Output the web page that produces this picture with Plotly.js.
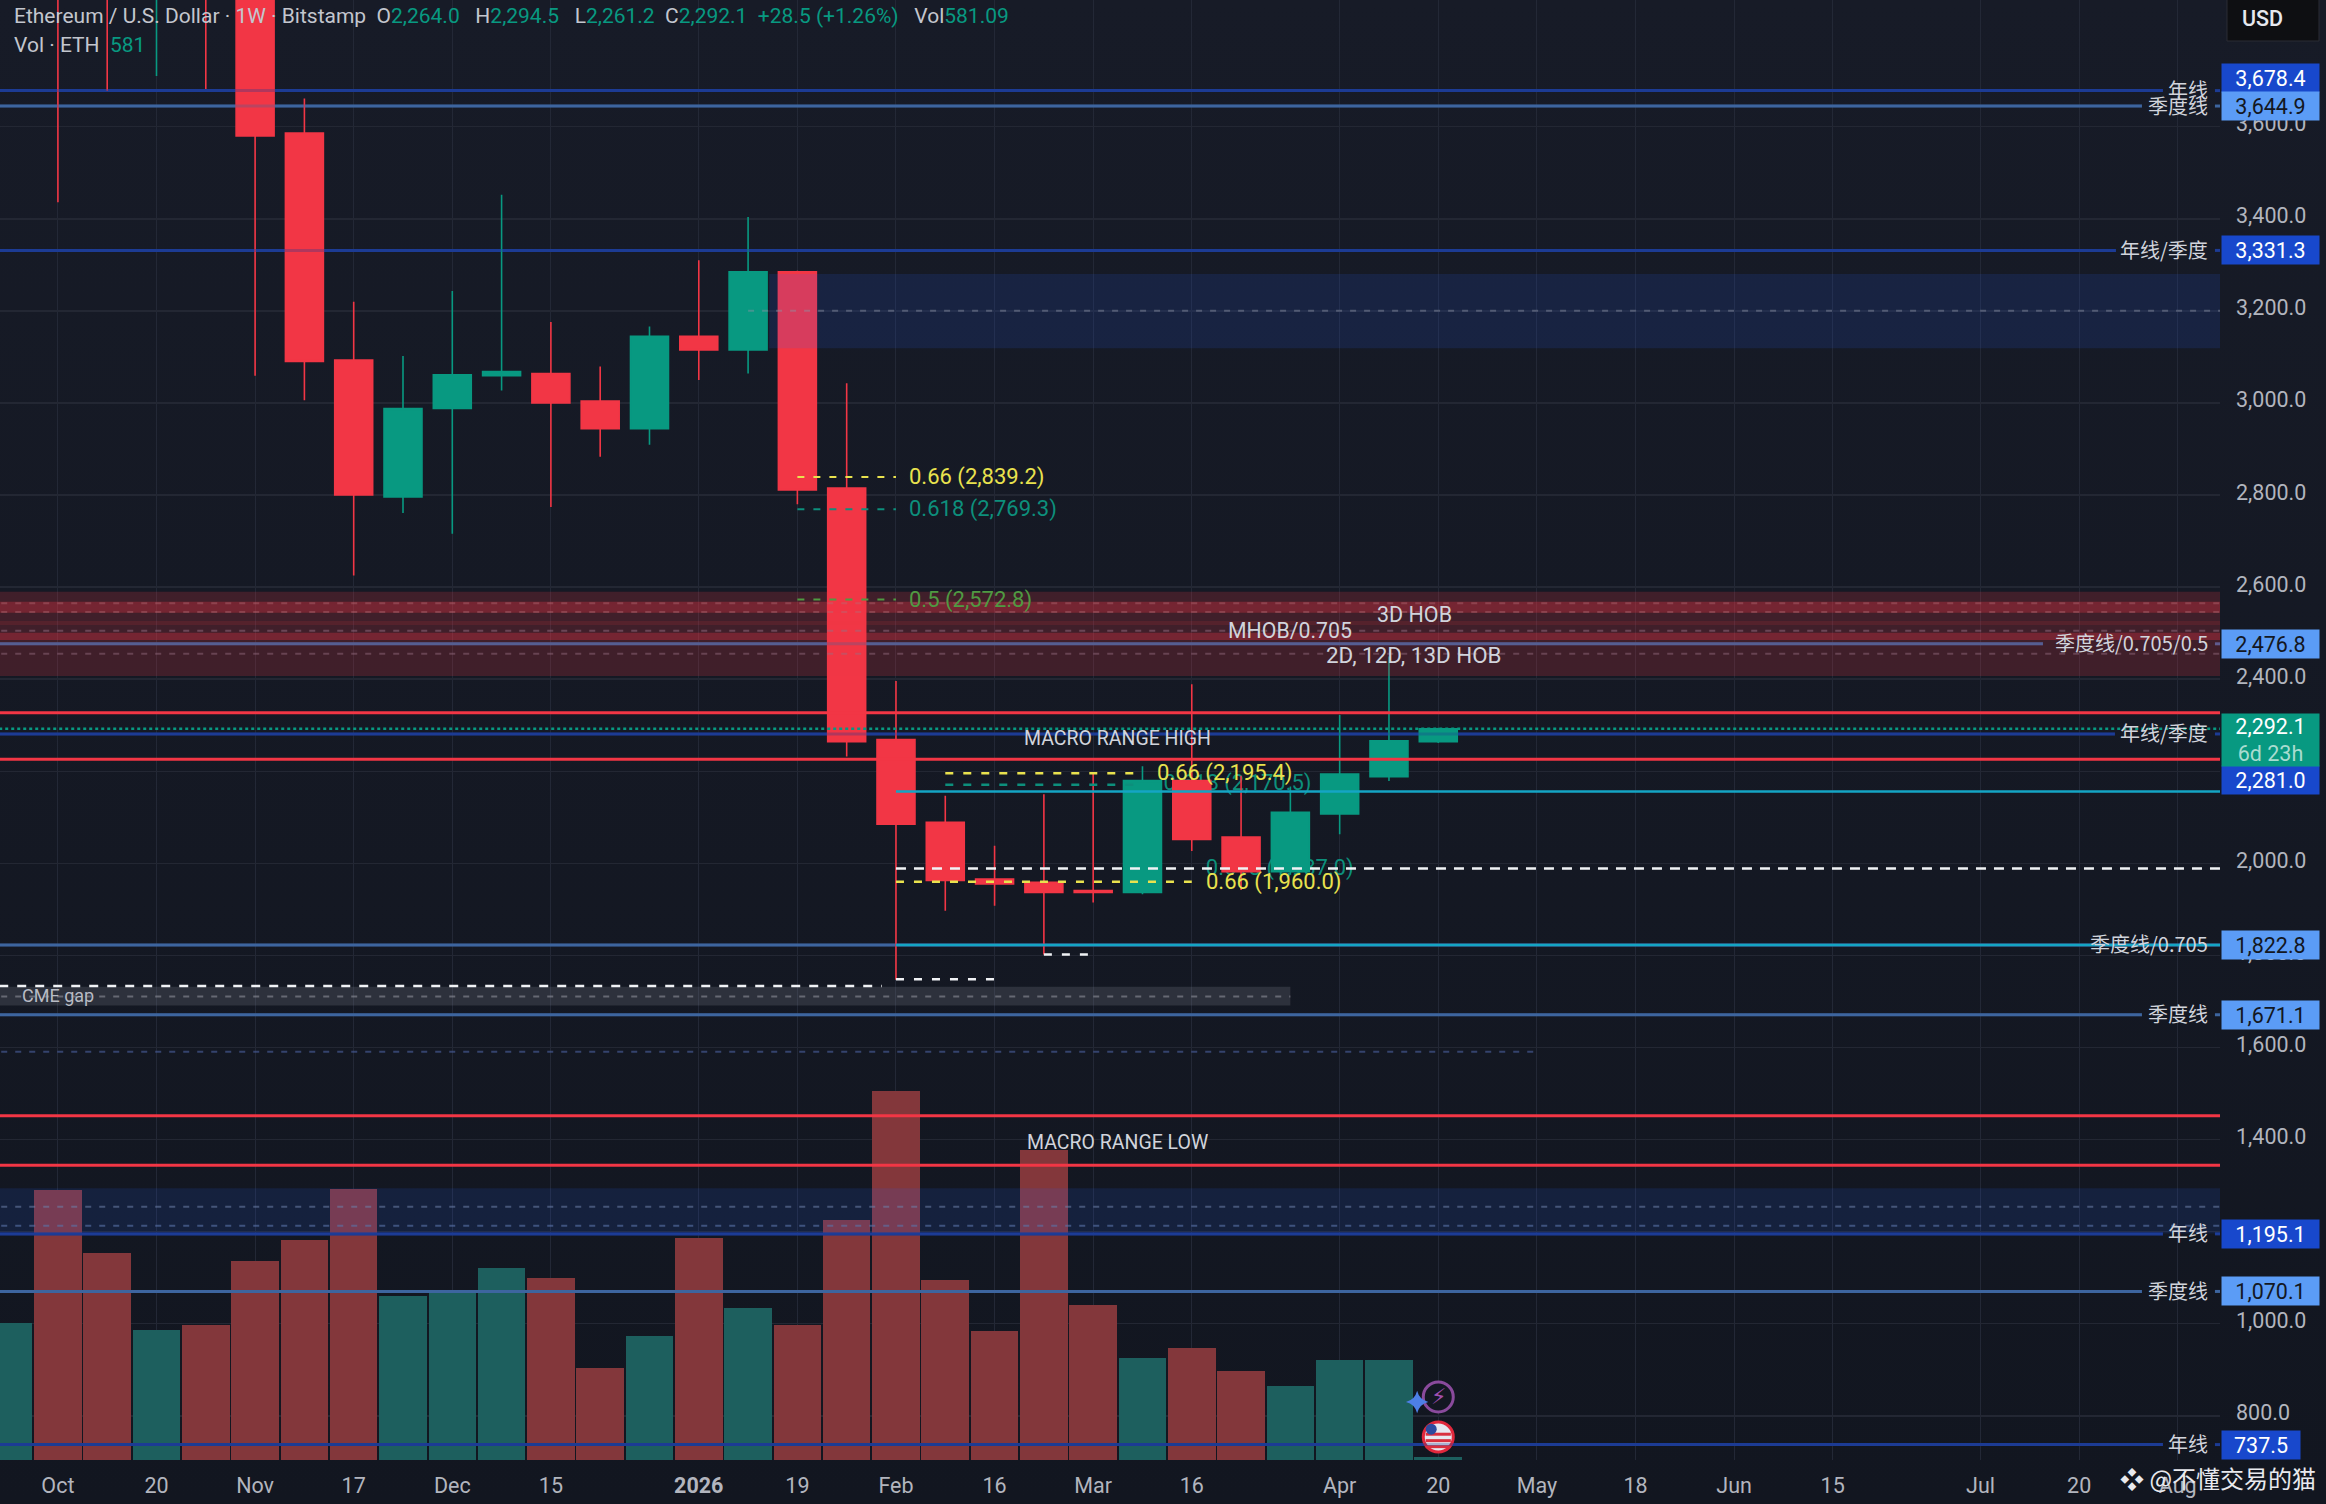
<!DOCTYPE html>
<html><head><meta charset="utf-8">
<script src="https://cdn.plot.ly/plotly-3.0.1.min.js"></script>
<style>html,body{margin:0;padding:0;width:2326px;height:1504px;overflow:hidden;background:linear-gradient(#171b27,#121620)}#c{width:2326px;height:1504px}</style>
</head><body><div id="c"></div>
<script>
// ---------- data ----------
const weeks=['2025-09-29','2025-10-06','2025-10-13','2025-10-20','2025-10-27','2025-11-03','2025-11-10','2025-11-17','2025-11-24','2025-12-01','2025-12-08','2025-12-15','2025-12-22','2025-12-29','2026-01-05','2026-01-12','2026-01-19','2026-01-26','2026-02-02','2026-02-09','2026-02-16','2026-02-23','2026-03-02','2026-03-09','2026-03-16','2026-03-23','2026-03-30','2026-04-06','2026-04-13','2026-04-20'];
const opens =[4100,4510,4150,3950,4150,3900,3586,3093,2796,2988,3059,3064,3004,2944,3145,3115,3285,2815,2269,2089,1966,1959,1941,1937,2180,2057,1982,2107,2188,2264.0];
const highs =[4600,4755,4300,4250,4250,3950,3661,3220,3102,3243,3452,3176,3079,3166,3310,3404,3287,3043,2396,2147,2038,2150,2196,2211,2389,2190,2167,2322,2449,2294.5];
const lows  =[3990,3436,3678,3710,3682,3059,3006,2625,2761,2716,3027,2774,2883,2909,3050,3064,2780,2232,1747,1897,1908,1802,1915,1933,2027,1942,1975,2063,2179,2261.2];
const closes=[4510,4150,3950,4150,3900,3580,3090,2800,2988,3061,3068,3000,2944,3145,3115,3285,2811,2264,2085,1963,1955,1937,1937,2180,2052,1982,2111,2194,2266,2292.1];
const volumes=[31450,62010,47540,29900,31120,45680,50630,62420,37630,39010,44130,41860,21130,28450,50960,34950,31120,55190,84770,41450,29580,71280,35760,23410,25760,20400,16990,23000,23000,581];
const priceTicks=[3600,3400,3200,3000,2800,2600,2400,2200,2000,1800,1600,1400,1200,1000,800];
const priceTickText=priceTicks.map(v=>v.toLocaleString('en-US',{minimumFractionDigits:1}));
const timeTicks=['2025-10-06','2025-10-20','2025-11-03','2025-11-17','2025-12-01','2025-12-15','2026-01-05','2026-01-19','2026-02-02','2026-02-16','2026-03-02','2026-03-16','2026-04-06','2026-04-20','2026-05-04','2026-05-18','2026-06-01','2026-06-15','2026-07-06','2026-07-20','2026-08-03'];
const timeTickText=['Oct','20','Nov','17','Dec','15','<b>2026</b>','19','Feb','16','Mar','16','Apr','20','May','18','Jun','15','Jul','20','Aug'];
// horizontal levels with a label and a price badge
const levelPrices=[3678.4,3644.9,3331.3,2476.8,2281.0,1822.8,1671.1,1195.1,1070.1,737.5];
const levelLabels=['年线','季度线','年线/季度','季度线/0.705/0.5','年线/季度','季度线/0.705','季度线','年线','季度线','年线'];
const levelKinds=['y','q','y','q','y','q','q','y','q','y'];
const levelLineEnds=[2163,2142,2116,2043,2115,2220,2142,2163,2142,2163];
const macroPrices=[2327,2226,1452,1344];
// ---------- styles ----------
const RED='#f23645',GREEN='#089981',YEAR='#1c3b94',QUARTER='#3d659f',YBADGE='#1848cc',QBADGE='#5b9cf6',CYAN='#14a5c4',YELLOW='#e9e24e',TEAL='#0d8f7c',OLIVE='#4f9a42';
const UI='Roboto, sans-serif',CJK='"Noto Sans CJK SC", sans-serif';
const PW=2220,PH=1460;
const dateAtPx=px=>new Date(Date.parse('2025-10-06T00:00:00Z')+(px-57.9)/49.3*7*864e5).toISOString();

const hl=(y,x0,x1,color,width,dash,opacity)=>({type:'line',layer:'above',yref:'y2',y0:y,y1:y,opacity:opacity===undefined?1:opacity,
  xref:'x',x0:x0===null?'2025-09-20':x0,x1:x1===null?'2026-08-09':x1,line:{color,width,dash:dash||'solid'}});
const band=(p0,p1,x0,x1,fill)=>({type:'rect',layer:'above',yref:'y2',y0:p0,y1:p1,xref:'x',x0:x0||'2025-09-20',x1:x1||'2026-08-09',fillcolor:fill,line:{width:0}});
const BLUEF='rgba(41,98,255,0.13)',REDF='rgba(242,54,69,0.2)',REDS='rgba(242,54,69,0.3)',GRAYF='rgba(120,123,134,0.26)';
const DIM='rgba(140,146,165,0.45)';
const shapes=[
 band(3280,3119,'2026-01-15',null,BLUEF),
 hl(3200,'2026-01-12',null,DIM,2,'6px,8px'),
 band(2590,2407,null,null,REDF),
 band(2568.3,2544.4,null,null,REDS),
 band(2526.4,2517.7,null,null,'rgba(242,54,69,0.12)'),
 band(2501,2485,null,null,REDS),
 hl(2564.8,null,null,'rgba(180,110,120,0.4)',2,'6px,8px'),
 hl(2546,null,null,'rgba(180,110,120,0.4)',2,'6px,8px'),
 hl(2505,null,null,'rgba(150,110,130,0.5)',2,'6px,8px'),
 hl(2455,null,null,'rgba(150,110,130,0.45)',2,'6px,8px'),
 band(1732,1691,null,'2026-03-30',GRAYF),
 hl(1711,null,'2026-03-30','rgba(150,152,160,0.55)',2,'6px,8px'),
 band(1294,1196,null,null,BLUEF),
 hl(1254,null,null,'rgba(110,130,170,0.55)',2,'6px,8px'),
 hl(1213,null,null,'rgba(90,115,170,0.6)',2,'6px,8px'),
 hl(1591,null,'2026-05-04','rgba(70,90,150,0.65)',2,'6px,8px'),
 // faint trace of the level lines across candle bodies
 ...levelPrices.map((p,i)=>hl(p,null,dateAtPx(levelLineEnds[i]),levelKinds[i]==='y'?YEAR:QUARTER,3,'solid',0.3)),
 // macro range
 ...macroPrices.map(p=>hl(p,null,null,RED,3)),
 // current price
 hl(2292.1,null,null,GREEN,2.5,'dot'),
 // anchored lines
 hl(2156,'2026-02-02',null,CYAN,2.5),
 hl(1822.8,'2026-02-02',null,CYAN,2.5),
 // fib levels
 hl(2839.2,'2026-01-19','2026-02-02',YELLOW,2,'7px,9px'),
 hl(2769.3,'2026-01-19','2026-02-02',TEAL,2,'7px,9px'),
 hl(2572.8,'2026-01-19','2026-02-02',OLIVE,2,'7px,9px'),
 hl(2170.5,'2026-02-09','2026-03-09',TEAL,2.5,'8px,10px'),
 hl(2195.4,'2026-02-09','2026-03-09',YELLOW,2.5,'8px,10px'),
 hl(1989,'2026-02-02',null,'#f0f2f5',2.5,'10px,8px'),
 hl(1960,'2026-02-02','2026-03-16',YELLOW,2.5,'8px,10px'),
 hl(1802,'2026-02-23','2026-03-02','#f0f2f5',2.5,'8px,10px'),
 hl(1748,'2026-02-02','2026-02-16','#f0f2f5',2.5,'8px,10px'),
 hl(1733.4,null,'2026-01-31','#f0f2f5',2.5,'9px,9px'),
 // USD box
 {type:'rect',layer:'above',xref:'paper',yref:'paper',x0:2227/PW,x1:2319/PW,y0:1-41/PH,y1:1+4/PH,fillcolor:'#0e0f12',line:{color:'#2a2d35',width:1}}
];
const txt=(x,p,text,color,size,anchor,extra)=>Object.assign({x,y:p,xref:'x',yref:'y2',text,showarrow:false,xanchor:anchor||'left',yanchor:'middle',font:{family:UI,size:size||19,color:color||'#d1d4dc'}},extra||{});
const sp='&nbsp;&nbsp;',sp3='&nbsp;&nbsp;&nbsp;';
const annotations=[
 txt('2026-02-03 12:00',2839.2,'0.66 (2,839.2)',YELLOW,22),
 txt('2026-02-03 12:00',2769.3,'0.618 (2,769.3)',TEAL,22),
 txt('2026-02-03 12:00',2572.8,'0.5 (2,572.8)',OLIVE,22),
 txt('2026-03-10 18:00',2195.4,'0.66 (2,195.4)',YELLOW,22),
 txt('2026-03-17 16:00',1960,'0.66 (1,960.0)',YELLOW,22),
 txt('2026-03-05 10:00',2272,'MACRO RANGE HIGH','#d1d4dc',19.5,'center'),
 txt('2026-03-05 10:00',1394,'MACRO RANGE LOW','#d1d4dc',19.5,'center'),
 txt('2026-04-16 14:00',2540,'3D HOB','#d1d4dc',21.5,'center'),
 txt('2026-03-30',2505,'MHOB/0.705','#d1d4dc',21.3,'center'),
 txt('2026-04-16 14:00',2452,'2D, 12D, 13D HOB','#d1d4dc',22.4,'center'),
 {x:20/PW,xref:'paper',y:1714,yref:'y2',text:'CME gap',showarrow:false,xanchor:'left',yanchor:'middle',font:{family:UI,size:18,color:'#b8bbc4'}},
 // level labels
 ...levelPrices.map((p,i)=>({x:2210/PW,xref:'paper',y:p,yref:'y2',yshift:1,text:levelLabels[i],showarrow:false,xanchor:'right',yanchor:'middle',align:'right',
   font:{family:CJK,size:20,color:'#d1d4dc'}})),
 // price badges
 ...levelPrices.map((p,i)=>{const yb=levelKinds[i]==='y';const moved=p===2281;const narrow=p===737.5;const up=p===3678.4;return {
   x:1,xref:'paper',xanchor:'left',xshift:1,
   y:moved?1-780/PH:(up?1-77.5/PH:p),yref:(moved||up)?'paper':'y2',yanchor:'middle',
   width:narrow?78:97,height:28,align:'center',showarrow:false,borderpad:0,
   bgcolor:yb?YBADGE:QBADGE,text:p.toLocaleString('en-US',{minimumFractionDigits:1}),
   font:{family:UI,size:21.5,color:yb?'#ffffff':'#131722'}};}),
 {x:1,xref:'paper',xanchor:'left',xshift:1,y:1-740/PH,yref:'paper',yanchor:'middle',width:97,height:52,align:'center',showarrow:false,borderpad:0,bgcolor:GREEN,
  text:'2,292.1<br><span style="color:#a9dcd0">6d 23h</span>',font:{family:UI,size:21.5,color:'#ffffff'}},
 {x:2262/PW,xref:'paper',xanchor:'center',y:1-18/PH,yref:'paper',yanchor:'middle',text:'USD',showarrow:false,font:{family:UI,size:21.5,color:'#e6e8ee',weight:500}},
 // header
 {x:12/PW,xref:'paper',xanchor:'left',y:1-16/PH,yref:'paper',yanchor:'middle',showarrow:false,align:'left',font:{family:UI,size:21,color:'#c3c6ce'},
  text:`Ethereum / U.S. Dollar · 1W · Bitstamp${sp}O<span style="color:${GREEN}">2,264.0</span>${sp3}H<span style="color:${GREEN}">2,294.5</span>${sp3}L<span style="color:${GREEN}">2,261.2</span>${sp}C<span style="color:${GREEN}">2,292.1</span>${sp}<span style="color:${GREEN}">+28.5 (+1.26%)</span>${sp3}Vol<span style="color:${GREEN}">581.09</span>`},
 {x:12/PW,xref:'paper',xanchor:'left',y:1-45/PH,yref:'paper',yanchor:'middle',showarrow:false,font:{family:UI,size:21,color:'#c3c6ce'},
  text:`Vol · ETH${sp}<span style="color:${GREEN}">581</span>`},
 // icons
 {x:'2026-04-20',xref:'x',y:841,yref:'y2',text:'⚡',showarrow:false,font:{family:'DejaVu Sans',size:22,color:'#a04fb0'}},
 // watermark
 {x:2318/2220,xref:'paper',xanchor:'right',y:-17/PH,yref:'paper',yanchor:'middle',showarrow:false,text:'❖ @不懂交易的猫',font:{family:CJK,size:24,color:'#e8e9ee'}}
];

const levelTraces=levelPrices.map((p,i)=>{
  const end=levelLineEnds[i];
  const xs=end<2220?[dateAtPx(-10),dateAtPx(end),null,dateAtPx(2215),dateAtPx(2225)]:[dateAtPx(-10),dateAtPx(2225)];
  return {type:'scatter',mode:'lines',xaxis:'x',yaxis:'y2',x:xs,y:xs.map(v=>v===null?null:p),
    line:{color:levelKinds[i]==='y'?YEAR:QUARTER,width:3},hoverinfo:'skip',connectgaps:false};
});
const traces=[
 {type:'bar',x:weeks,y:volumes,xaxis:'x',yaxis:'y',width:weeks.map(()=>7*864e5*0.965),
  marker:{color:closes.map((c,i)=>c>=opens[i]?'#1d5f5e':'#83373b'),line:{width:0}},hoverinfo:'skip'},
 ...levelTraces,
 {type:'scatter',mode:'text',xaxis:'x',yaxis:'y2',x:['2026-03-12','2026-03-18'],y:[2170.5,1987.0],text:['0.618 (2,170.5)','0.618 (1,987.0)'],
  textposition:'middle right',textfont:{family:UI,size:22,color:TEAL},hoverinfo:'skip'},
 {type:'candlestick',x:weeks,open:opens,high:highs,low:lows,close:closes,xaxis:'x',yaxis:'y3',whiskerwidth:0,
  increasing:{line:{color:GREEN,width:1.6},fillcolor:GREEN},decreasing:{line:{color:RED,width:1.6},fillcolor:RED},hoverinfo:'skip'},
 {type:'scatter',mode:'markers',xaxis:'x',yaxis:'y3',x:['2026-04-20','2026-04-20'],y:[841,754],
  marker:{symbol:'circle',size:30,color:['#131722','#e6e8f0'],line:{color:['#8a4a9c','#e0283c'],width:3}},hoverinfo:'skip'},
 {type:'scatter',mode:'markers',xaxis:'x',yaxis:'y3',x:['2026-04-17'],y:[830],marker:{symbol:'star-diamond',size:16,color:'#4d7fe6'},hoverinfo:'skip'},
 {type:'scatter',mode:'markers',xaxis:'x',yaxis:'y3',x:['2026-04-20','2026-04-20','2026-04-20'],y:[760,746,733],
  marker:{symbol:'line-ew',size:18,line:{color:'#d9303f',width:3}},hoverinfo:'skip'},
 {type:'scatter',mode:'markers',xaxis:'x',yaxis:'y3',x:['2026-04-19'],y:[771],marker:{symbol:'circle',size:11,color:'#2d4ba0'},hoverinfo:'skip'}
];
const PRANGE=[704,3875.2];
const layout={width:2326,height:1504,paper_bgcolor:'rgba(0,0,0,0)',plot_bgcolor:'rgba(0,0,0,0)',showlegend:false,
 margin:{l:0,r:106,t:0,b:44,pad:0},boxgap:0.23,boxgroupgap:0,bargap:0,
 font:{family:UI,color:'#b2b5be'},
 xaxis:{type:'date',range:['2025-09-27 18:40','2026-08-09'],tickvals:timeTicks,ticktext:timeTickText,tickangle:0,showgrid:true,gridcolor:'#232836',gridwidth:1,zeroline:false,showline:false,ticks:'',tickfont:{family:UI,size:21.5,color:'#b2b5be'},rangeslider:{visible:false},fixedrange:true,ticklabelstandoff:10},
 yaxis:{range:[0,335800],visible:false,fixedrange:true,showgrid:false},
 yaxis2:{overlaying:'y',side:'right',range:PRANGE,tickvals:priceTicks,ticktext:priceTickText,showgrid:true,gridcolor:'#232733',gridwidth:1.5,zeroline:false,showline:false,ticks:'',tickfont:{family:UI,size:21.5,color:'#b2b5be'},fixedrange:true,ticklabelstandoff:15,ticklabelshift:-3},
 yaxis3:{overlaying:'y',side:'right',range:PRANGE,visible:false,fixedrange:true,showgrid:false},
 shapes,annotations};
Plotly.newPlot('c',traces,layout,{displayModeBar:false,staticPlot:true});
</script></body></html>
